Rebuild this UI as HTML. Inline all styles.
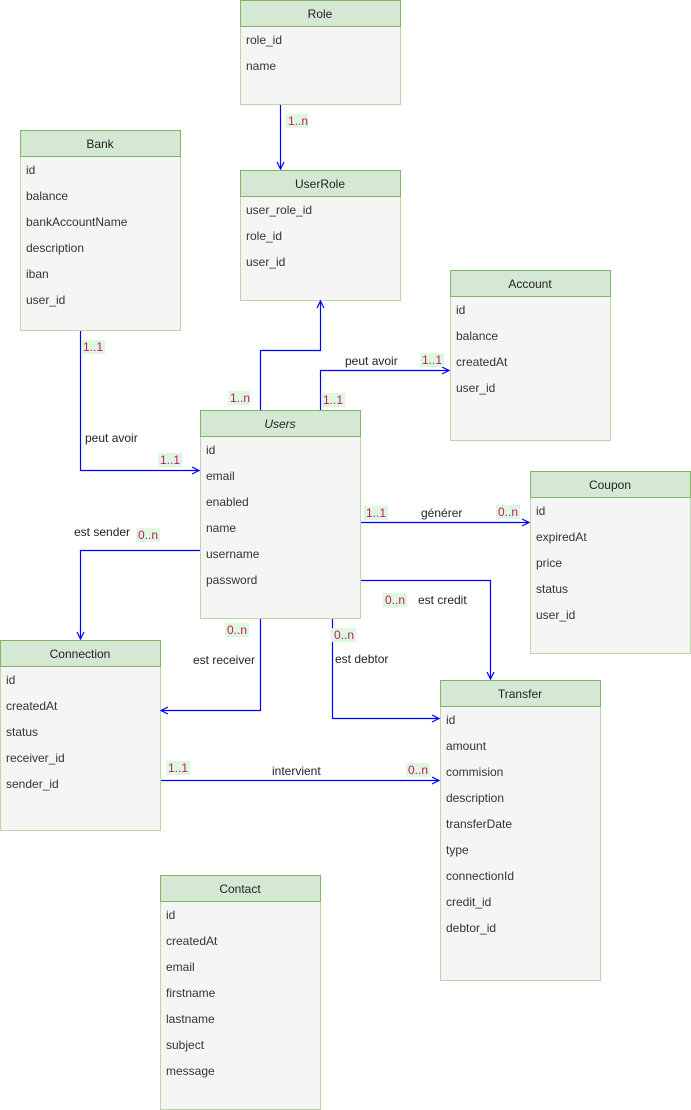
<!DOCTYPE html>
<html><head><meta charset="utf-8"><style>
html,body{margin:0;padding:0;background:#fff;}
svg{display:block;font-family:"Liberation Sans",Arial,sans-serif;}
.h{fill:#d5e8d4;stroke:#82b366;}
.b{fill:#f5f5f5;stroke:#b9d7a8;}
.t{font-size:12px;fill:#333;}
.ht{font-size:12px;fill:#222;text-anchor:middle;}
.l{fill:none;stroke:#0000ff;stroke-width:1.2;}
.m{font-size:12px;fill:#cc1177;}
.mb{fill:#ddf8dd;}
.lab{font-size:12px;fill:#222;}
</style></head><body>
<svg width="691" height="1110" viewBox="0 0 691 1110">
<defs><marker id="a" markerWidth="10" markerHeight="10" refX="8" refY="4" orient="auto" markerUnits="userSpaceOnUse"><path d="M1,0.5 L8,4 L1,7.5" fill="none" stroke="#0000ff" stroke-width="1.2"/></marker></defs>

<!-- entities -->
<g>
<rect class="b" x="240.5" y="0.5" width="160" height="104"/><rect class="h" x="240.5" y="0.5" width="160" height="26"/>
<text class="ht" x="320" y="18">Role</text>
<text class="t" x="246" y="44">role_id</text><text class="t" x="246" y="70">name</text>
</g>
<g>
<rect class="b" x="20.5" y="130.5" width="160" height="200"/><rect class="h" x="20.5" y="130.5" width="160" height="26"/>
<text class="ht" x="100" y="148">Bank</text>
<text class="t" x="26" y="174">id</text><text class="t" x="26" y="200">balance</text><text class="t" x="26" y="226">bankAccountName</text><text class="t" x="26" y="252">description</text><text class="t" x="26" y="278">iban</text><text class="t" x="26" y="304">user_id</text>
</g>
<g>
<rect class="b" x="240.5" y="170.5" width="160" height="130"/><rect class="h" x="240.5" y="170.5" width="160" height="26"/>
<text class="ht" x="320" y="188">UserRole</text>
<text class="t" x="246" y="214">user_role_id</text><text class="t" x="246" y="240">role_id</text><text class="t" x="246" y="266">user_id</text>
</g>
<g>
<rect class="b" x="450.5" y="270.5" width="160" height="170"/><rect class="h" x="450.5" y="270.5" width="160" height="26"/>
<text class="ht" x="530" y="288">Account</text>
<text class="t" x="456" y="314">id</text><text class="t" x="456" y="340">balance</text><text class="t" x="456" y="366">createdAt</text><text class="t" x="456" y="392">user_id</text>
</g>
<g>
<rect class="b" x="200.5" y="410.5" width="160" height="208"/><rect class="h" x="200.5" y="410.5" width="160" height="26"/>
<text class="ht" x="280" y="428" font-style="italic">Users</text>
<text class="t" x="206" y="454">id</text><text class="t" x="206" y="480">email</text><text class="t" x="206" y="506">enabled</text><text class="t" x="206" y="532">name</text><text class="t" x="206" y="558">username</text><text class="t" x="206" y="584">password</text>
</g>
<g>
<rect class="b" x="530.5" y="471.5" width="160" height="182"/><rect class="h" x="530.5" y="471.5" width="160" height="26"/>
<text class="ht" x="610" y="489">Coupon</text>
<text class="t" x="536" y="515">id</text><text class="t" x="536" y="541">expiredAt</text><text class="t" x="536" y="567">price</text><text class="t" x="536" y="593">status</text><text class="t" x="536" y="619">user_id</text>
</g>
<g>
<rect class="b" x="0.5" y="640.5" width="160" height="190"/><rect class="h" x="0.5" y="640.5" width="160" height="26"/>
<text class="ht" x="80" y="658">Connection</text>
<text class="t" x="6" y="684">id</text><text class="t" x="6" y="710">createdAt</text><text class="t" x="6" y="736">status</text><text class="t" x="6" y="762">receiver_id</text><text class="t" x="6" y="788">sender_id</text>
</g>
<g>
<rect class="b" x="440.5" y="680.5" width="160" height="300"/><rect class="h" x="440.5" y="680.5" width="160" height="26"/>
<text class="ht" x="520" y="698">Transfer</text>
<text class="t" x="446" y="724">id</text><text class="t" x="446" y="750">amount</text><text class="t" x="446" y="776">commision</text><text class="t" x="446" y="802">description</text><text class="t" x="446" y="828">transferDate</text><text class="t" x="446" y="854">type</text><text class="t" x="446" y="880">connectionId</text><text class="t" x="446" y="906">credit_id</text><text class="t" x="446" y="932">debtor_id</text>
</g>
<g>
<rect class="b" x="160.5" y="875.5" width="160" height="234"/><rect class="h" x="160.5" y="875.5" width="160" height="26"/>
<text class="ht" x="240" y="893">Contact</text>
<text class="t" x="166" y="919">id</text><text class="t" x="166" y="945">createdAt</text><text class="t" x="166" y="971">email</text><text class="t" x="166" y="997">firstname</text><text class="t" x="166" y="1023">lastname</text><text class="t" x="166" y="1049">subject</text><text class="t" x="166" y="1075">message</text>
</g>

<!-- connectors -->
<path class="l" d="M280.5,105 V169" marker-end="url(#a)"/>
<path class="l" d="M80.5,331 V470.5 H199" marker-end="url(#a)"/>
<path class="l" d="M260.5,410 V350.5 H320.5 V301" marker-end="url(#a)"/>
<path class="l" d="M320.5,410 V370.5 H449" marker-end="url(#a)"/>
<path class="l" d="M361,522.5 H529" marker-end="url(#a)"/>
<path class="l" d="M361,580.5 H490.5 V679" marker-end="url(#a)"/>
<path class="l" d="M200,550.5 H80.5 V639" marker-end="url(#a)"/>
<path class="l" d="M260.5,619 V710.5 H161" marker-end="url(#a)"/>
<path class="l" d="M332.5,619 V718.5 H439" marker-end="url(#a)"/>
<path class="l" d="M161,780.5 H439" marker-end="url(#a)"/>

<!-- multiplicities -->
<g>
<rect class="mb" x="286" y="114" width="22" height="14"/><text class="m" x="288" y="125">1..n</text>
<rect class="mb" x="81" y="340" width="24" height="14"/><text class="m" x="83" y="351">1..1</text>
<rect class="mb" x="158" y="453" width="24" height="14"/><text class="m" x="160" y="464">1..1</text>
<rect class="mb" x="228" y="391" width="22" height="14"/><text class="m" x="230" y="402">1..n</text>
<rect class="mb" x="321" y="393" width="24" height="14"/><text class="m" x="323" y="404">1..1</text>
<rect class="mb" x="420" y="353" width="24" height="14"/><text class="m" x="422" y="364">1..1</text>
<rect class="mb" x="364" y="506" width="24" height="14"/><text class="m" x="366" y="517">1..1</text>
<rect class="mb" x="496" y="505" width="24" height="14"/><text class="m" x="498" y="516">0..n</text>
<rect class="mb" x="383" y="593" width="24" height="14"/><text class="m" x="385" y="604">0..n</text>
<rect class="mb" x="136" y="528" width="24" height="14"/><text class="m" x="138" y="539">0..n</text>
<rect class="mb" x="225" y="623" width="24" height="14"/><text class="m" x="227" y="634">0..n</text>
<rect class="mb" x="332" y="628" width="24" height="14"/><text class="m" x="334" y="639">0..n</text>
<rect class="mb" x="166" y="761" width="24" height="14"/><text class="m" x="168" y="772">1..1</text>
<rect class="mb" x="406" y="763" width="24" height="14"/><text class="m" x="408" y="774">0..n</text>
</g>

<!-- labels -->
<text class="lab" x="85" y="442">peut avoir</text>
<text class="lab" x="345" y="365">peut avoir</text>
<text class="lab" x="421" y="517">générer</text>
<text class="lab" x="418" y="604">est credit</text>
<text class="lab" x="74" y="536">est sender</text>
<text class="lab" x="193" y="664">est receiver</text>
<text class="lab" x="335" y="663">est debtor</text>
<text class="lab" x="272" y="775">intervient</text>
</svg>
</body></html>
